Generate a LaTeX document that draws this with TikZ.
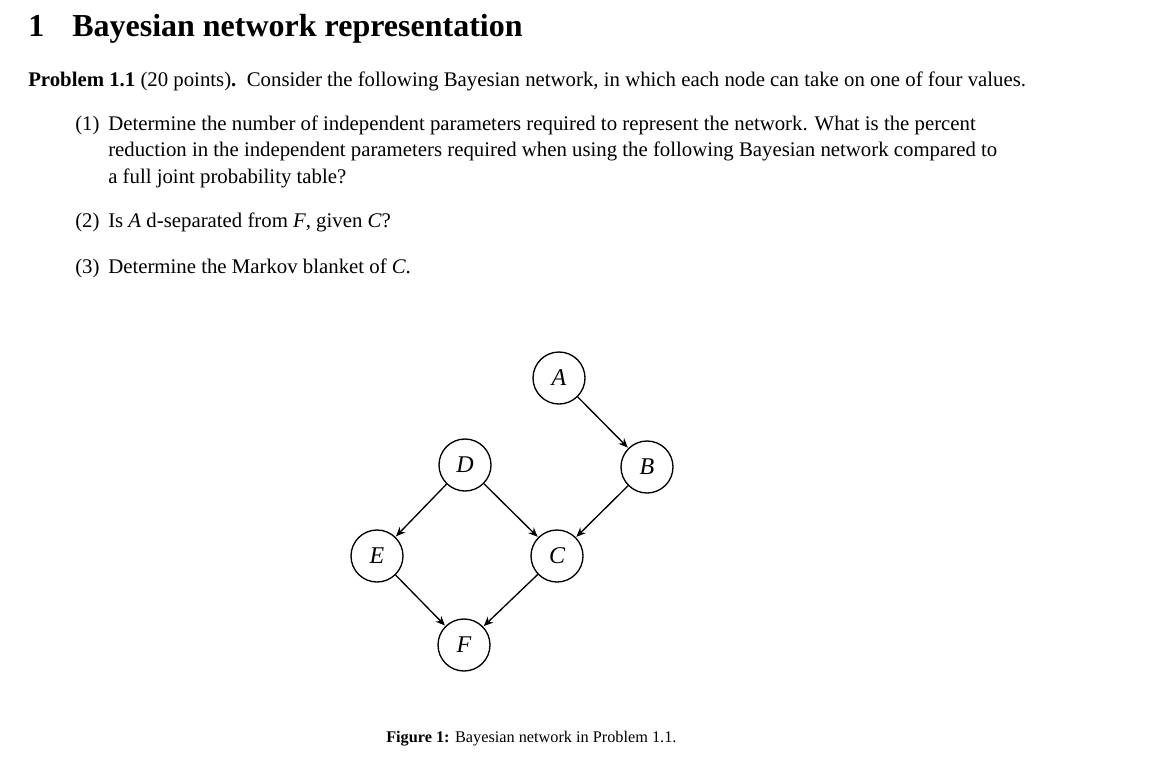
\documentclass[tikz,border=0pt]{standalone}
\usepackage{fontspec}
\setmainfont{Liberation Serif}
\usetikzlibrary{arrows.meta}
\begin{document}
\begin{tikzpicture}[x=0.75pt,y=-0.75pt,
  txt/.style={anchor=base west,inner sep=0pt,font=\fontsize{15.6}{18}\selectfont},
  vnode/.style={circle,draw,line width=1pt,minimum size=39pt,inner sep=0pt,font=\fontsize{18}{20}\selectfont\itshape},
  edge/.style={-{Stealth[length=7pt,width=6pt]},line width=1pt,shorten >=0.5pt}]
\useasboundingbox (0,0) rectangle (1162,775);
\node[anchor=base west,inner sep=0pt,font=\fontsize{24}{28}\selectfont\bfseries] (n1) at (28,36) {1};
\node[anchor=base west,inner sep=0pt,font=\fontsize{24}{28}\selectfont\bfseries] (title) at (72,36) {Bayesian network representation};
\node[txt] (p) at (28,86) {\textbf{Problem 1.1} (20 points)\textbf{.}\ \ Consider the following Bayesian network, in which each node can take on one of four values.};
\node[txt] (l1) at (75,130) {(1)};
\node[txt] (t1a) at (108,130) {Determine the number of independent parameters required to represent the network. What is the percent};
\node[txt] (t1b) at (108,156) {reduction in the independent parameters required when using the following Bayesian network compared to};
\node[txt] (t1c) at (108,183) {a full joint probability table?};
\node[txt] (l2) at (75,227) {(2)};
\node[txt] (t2) at (108,227) {Is \textit{A} d-separated from \textit{F}, given \textit{C}?};
\node[txt] (l3) at (75,273) {(3)};
\node[txt] (t3) at (108,273) {Determine the Markov blanket of \textit{C}.};
\node[vnode] (A) at (559,378) {A};
\node[vnode] (B) at (647,467) {B};
\node[vnode] (D) at (465,465) {D};
\node[vnode] (E) at (377,556) {E};
\node[vnode] (C) at (557,556) {C};
\node[vnode] (F) at (464,645) {F};
\draw[edge] (A) -- (B);
\draw[edge] (B) -- (C);
\draw[edge] (D) -- (C);
\draw[edge] (D) -- (E);
\draw[edge] (E) -- (F);
\draw[edge] (C) -- (F);
\node[anchor=base west,inner sep=0pt,font=\fontsize{12.2}{14}\selectfont] (cap) at (386,742) {\textbf{Figure 1:} Bayesian network in Problem 1.1.};
\end{tikzpicture}
\end{document}
